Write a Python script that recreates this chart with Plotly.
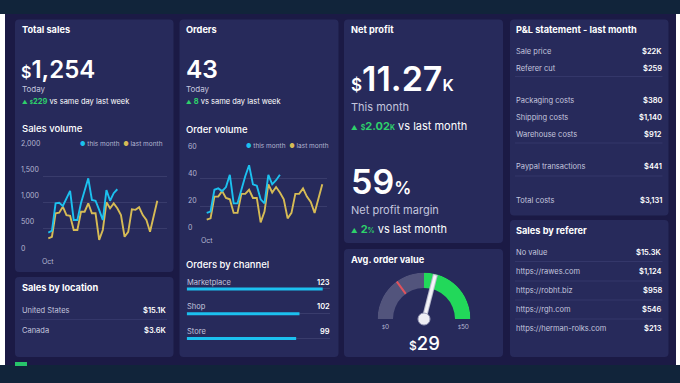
import plotly.graph_objects as go

W, H = 680, 383
FONT = "Inter"

# ---------------- data ----------------
DAYS = list(range(1, 32))
SALES_THIS = [420, 455, 980, 990, 930, 1065, 1220, 660, 660, 985, 1235, 1460, 1045, 1030, 855, 660, 1235, 1030, 1175, 1250]
SALES_LAST = [310, 340, 790, 800, 915, 755, 740, 470, 470, 820, 820, 980, 790, 790, 280, 470, 1000, 885, 980, 885,
              755, 340, 435, 865, 855, 905, 755, 660, 435, 725, 1030]
ORDERS_THIS = [15, 16, 32, 33, 31, 34, 43, 22, 22, 33, 42, 50, 36, 35, 25, 22, 43, 36, 39, 43]
ORDERS_LAST = [10, 11, 27, 27, 31, 26, 25, 15, 15, 29, 29, 32, 26, 26, 8, 16, 36, 30, 34, 30,
               25, 11, 15, 29, 29, 33, 27, 23, 15, 26, 36]
SALES_TICKS = [0, 500, 1000, 1500, 2000]
SALES_TICKTEXT = ["0", "500", "1,000", "1,500", "2,000"]
ORDER_TICKS = [0, 20, 40, 60]
ORDER_TICKTEXT = ["0", "20", "40", "60"]

CHANNELS = ["Marketplace", "Shop", "Store"]
CHANNEL_ORDERS = [123, 102, 99]

LOCATIONS = ["United States", "Canada"]
LOCATION_SALES = ["$15.1K", "$3.6K"]

PL_ITEMS = ["Sale price", "Referer cut", "Packaging costs", "Shipping costs", "Warehouse costs",
            "Paypal transactions", "Total costs"]
PL_VALUES = ["$22K", "$259", "$380", "$1,140", "$912", "$441", "$3,131"]

REFERERS = ["No value", "https://rawes.com", "https://robht.biz", "https://rgh.com", "https://herman-rolks.com"]
REFERER_SALES = ["$15.3K", "$1,124", "$958", "$546", "$213"]

GAUGE_MIN, GAUGE_MAX = 0, 50
GAUGE_BANDS = [(0, 25), (25, 50)]
GAUGE_TARGET = 15
AVG_ORDER = 29

# ---------------- styling ----------------
BAND = "#11243a"
DASH_BG = "#1b1a45"
CARD = "#272a5b"
GRID = "#393c6c"
SEP = "#34376a"
CYAN = "#1cc0ef"
YELLOW = "#d6bb55"
GREEN = "#2ed16b"
GAUGE_GREEN = "#22d85a"
GAUGE_GRAY = "#52547c"
TXT = "#ffffff"
SUB = "#c4c6de"
AXT = "#b3b5d1"
TITLE = 9.2


def X(px):
    return px / W


def Y(py):
    return 1 - py / H


shapes = []
annotations = []


def rect(x0, y0, x1, y1, color):
    shapes.append(dict(type="rect", xref="paper", yref="paper", x0=X(x0), x1=X(x1), y0=Y(y1), y1=Y(y0),
                       fillcolor=color, line=dict(width=0), layer="below"))


def rrect(x0, y0, x1, y1, color, r=4):
    p = (f"M {X(x0 + r)},{Y(y0)} L {X(x1 - r)},{Y(y0)} Q {X(x1)},{Y(y0)} {X(x1)},{Y(y0 + r)} "
         f"L {X(x1)},{Y(y1 - r)} Q {X(x1)},{Y(y1)} {X(x1 - r)},{Y(y1)} "
         f"L {X(x0 + r)},{Y(y1)} Q {X(x0)},{Y(y1)} {X(x0)},{Y(y1 - r)} "
         f"L {X(x0)},{Y(y0 + r)} Q {X(x0)},{Y(y0)} {X(x0 + r)},{Y(y0)} Z")
    shapes.append(dict(type="path", xref="paper", yref="paper", path=p, fillcolor=color,
                       line=dict(width=0), layer="below"))


def hline(x0, x1, y, color=SEP):
    shapes.append(dict(type="line", xref="paper", yref="paper", x0=X(x0), x1=X(x1), y0=Y(y), y1=Y(y),
                       line=dict(color=color, width=1), layer="below"))


def txt(x, y, s, size=8, color=TXT, weight=400, anchor="left"):
    annotations.append(dict(xref="paper", yref="paper", x=X(x), y=Y(y), text=s, showarrow=False,
                            xanchor=anchor, yanchor="middle", borderpad=0,
                            font=dict(family=FONT, size=size, color=color, weight=weight)))


def sp(s, size=None, color=None, weight=None):
    st = []
    if size:
        st.append(f"font-size:{size}px")
    if color:
        st.append(f"fill:{color}")
    if weight:
        st.append(f"font-weight:{weight}")
    return f'<span style="{";".join(st)}">{s}</span>'


# ---------------- background ----------------
rect(0, 14, 680, 365, "#ffffff")
rect(5, 14, 676, 365, DASH_BG)
rect(15, 362, 27, 366, "#27c46a")

# cards
rrect(15, 19.5, 173.5, 272, CARD)
rrect(15, 277, 173.5, 357, CARD)
rrect(179.5, 19.5, 338.5, 357, CARD)
rrect(344, 19.5, 503, 243, CARD)
rrect(344, 249, 503, 357, CARD)
rrect(510, 19.5, 668.5, 215.5, CARD)
rrect(510, 220, 668.5, 357, CARD)

fig = go.Figure()

# ---------------- sales volume ----------------
fig.add_trace(go.Scatter(x=DAYS[:len(SALES_LAST)], y=SALES_LAST, mode="lines",
                         line=dict(color=YELLOW, width=1.9), xaxis="x", yaxis="y", showlegend=False))
fig.add_trace(go.Scatter(x=DAYS[:len(SALES_THIS)], y=SALES_THIS, mode="lines",
                         line=dict(color=CYAN, width=1.9), xaxis="x", yaxis="y", showlegend=False))

# ---------------- order volume ----------------
fig.add_trace(go.Scatter(x=DAYS[:len(ORDERS_LAST)], y=ORDERS_LAST, mode="lines",
                         line=dict(color=YELLOW, width=1.9), xaxis="x2", yaxis="y2", showlegend=False))
fig.add_trace(go.Scatter(x=DAYS[:len(ORDERS_THIS)], y=ORDERS_THIS, mode="lines",
                         line=dict(color=CYAN, width=1.9), xaxis="x2", yaxis="y2", showlegend=False))

# ---------------- orders by channel ----------------
fig.add_trace(go.Bar(x=CHANNEL_ORDERS, y=CHANNELS, orientation="h", width=0.12,
                     marker=dict(color=CYAN, line=dict(width=0)), xaxis="x3", yaxis="y3", showlegend=False))

# ---------------- gauge ----------------
def deg(v):
    return 180 - (v - GAUGE_MIN) / (GAUGE_MAX - GAUGE_MIN) * 180


INNER = 0.667
band_theta = [(deg(a) + deg(b)) / 2 for a, b in GAUGE_BANDS]
band_width = [abs(deg(a) - deg(b)) for a, b in GAUGE_BANDS]
fig.add_trace(go.Barpolar(r=[1 - INNER] * len(GAUGE_BANDS), base=[INNER] * len(GAUGE_BANDS),
                          theta=band_theta, width=band_width,
                          marker=dict(color=[GAUGE_GRAY, GAUGE_GREEN], line=dict(width=0)),
                          subplot="polar", showlegend=False))
fig.add_trace(go.Scatterpolar(r=[INNER, 1], theta=[deg(GAUGE_TARGET)] * 2, mode="lines",
                              line=dict(color="#e0525c", width=2), subplot="polar", showlegend=False))
fig.add_trace(go.Scatterpolar(r=[0, 0.99], theta=[deg(AVG_ORDER)] * 2, mode="lines",
                              line=dict(color="#b8bacd", width=5), subplot="polar", showlegend=False))
fig.add_trace(go.Scatterpolar(r=[0, 0.97], theta=[deg(AVG_ORDER)] * 2, mode="lines",
                              line=dict(color="#f4f4f8", width=3), subplot="polar", showlegend=False))
fig.add_trace(go.Scatterpolar(r=[0], theta=[deg(AVG_ORDER)], mode="markers",
                              marker=dict(color="#eeeef4", size=12, line=dict(color="#9a9cb8", width=1)),
                              subplot="polar", showlegend=False))

# ---------------- text ----------------
# Total sales
txt(20.5, 30, "Total sales", TITLE, TXT, 700)
txt(20, 69.5, sp("$", 16) + "1,254", 24, TXT, 600)
txt(20.5, 88.7, "Today", 8, SUB)
txt(20.5, 101.7, sp("▲", 5.5, GREEN) + " " + sp("$", 5, GREEN, 700) + sp("229", None, GREEN, 700)
    + " vs same day last week", 7.5, TXT)
txt(20.5, 128, "Sales volume", 9.5, TXT, 500)
txt(78.5, 144, sp("●", 6, CYAN) + " this month  " + sp("●", 6, YELLOW) + " last month", 6.5, AXT)

# Orders
txt(185.5, 30, "Orders", TITLE, TXT, 700)
txt(185, 69.5, "43", 24.5, TXT, 600)
txt(185.5, 88.7, "Today", 8, SUB)
txt(185.5, 101.7, sp("▲", 5.5, GREEN) + " " + sp("8", None, GREEN, 700) + " vs same day last week", 7.5, TXT)
txt(185.5, 130, "Order volume", 9.5, TXT, 500)
txt(244.5, 145.7, sp("●", 6, CYAN) + " this month  " + sp("●", 6, YELLOW) + " last month", 6.5, AXT)
txt(185.5, 264, "Orders by channel", 9.5, TXT, 500)
ch_y = [282.3, 306.7, 331.7]
for name, val, yy in zip(CHANNELS, CHANNEL_ORDERS, ch_y):
    txt(186, yy, name, 7.5, SUB)
    txt(330.5, yy, f"{val}", 7.5, TXT, 600, anchor="right")

# Net profit
txt(350, 30, "Net profit", TITLE, TXT, 700)
txt(350, 78.5, sp("$", 17) + "11.27" + sp("K", 16), 34, TXT, 600)
txt(350.5, 106.5, "This month", 11, SUB)
txt(350.5, 126, sp("▲", 6.5, GREEN) + " " + sp("$", 7, GREEN, 700) + sp("2.02", None, GREEN, 700)
    + sp("K", 7, GREEN, 700) + " vs last month", 11, TXT)
txt(350, 181.5, "59" + sp("%", 17), 34, TXT, 600)
txt(350.5, 210, "Net profit margin", 11, SUB)
txt(350.5, 228.7, sp("▲", 6.5, GREEN) + " " + sp("2", None, GREEN, 700) + sp("%", 7, GREEN, 700)
    + " vs last month", 11, TXT)

# Avg order value
txt(350, 259.3, "Avg. order value", TITLE, TXT, 700)
txt(385, 327.3, sp("$", 4.5) + f"{GAUGE_MIN}", 6.5, AXT, anchor="center")
txt(463.7, 327.3, sp("$", 4.5) + f"{GAUGE_MAX}", 6.5, AXT, anchor="center")
txt(424, 343, sp("$", 12) + f"{AVG_ORDER}", 18.5, TXT, 500, anchor="center")

# P&L
txt(515, 29.7, "P&L statement - last month", TITLE, TXT, 700)
pl_y = [51.7, 68.3, 100.7, 117.7, 134.3, 166.7, 200]
for name, val, yy in zip(PL_ITEMS, PL_VALUES, pl_y):
    txt(515, yy, name, 7.5, SUB)
    txt(662.5, yy, val, 7.5, TXT, 600, anchor="right")
for yy in [76.5, 143, 176]:
    hline(515, 662.5, yy)

# Sales by referer
txt(515, 230.7, "Sales by referer", TITLE, TXT, 700)
ref_y = [252.7, 271.7, 290.7, 309.3, 328.3]
for name, val, yy in zip(REFERERS, REFERER_SALES, ref_y):
    txt(515, yy, name, 7.5, SUB)
    txt(662.5, yy, val, 7.5, TXT, 600, anchor="right")
for yy in [261.5, 281, 300, 319]:
    hline(515, 662.5, yy)

# Sales by location
txt(20.5, 287.3, "Sales by location", TITLE, TXT, 700)
loc_y = [310, 330]
for name, val, yy in zip(LOCATIONS, LOCATION_SALES, loc_y):
    txt(20.5, yy, name, 7.5, SUB)
    txt(167, yy, val, 7.5, TXT, 600, anchor="right")
hline(20.5, 167, 319.5)

# axis tick labels (placed on the axes' own scales)
for v, t in zip(SALES_TICKS, SALES_TICKTEXT):
    annotations.append(dict(xref="paper", yref="y", x=X(20), y=v, text=t, showarrow=False, xanchor="left",
                            yanchor="middle", yshift=6.5, borderpad=0,
                            font=dict(family=FONT, size=7, color=AXT)))
for v, t in zip(ORDER_TICKS, ORDER_TICKTEXT):
    annotations.append(dict(xref="paper", yref="y2", x=X(186.5), y=v, text=t, showarrow=False, xanchor="left",
                            yanchor="middle", yshift=5.5, borderpad=0,
                            font=dict(family=FONT, size=7, color=AXT)))
annotations.append(dict(xref="x", yref="y domain", x=DAYS[0], y=0, text="Oct", showarrow=False, xanchor="center",
                        yanchor="middle", yshift=-6.8, borderpad=0, font=dict(family=FONT, size=7, color=AXT)))
annotations.append(dict(xref="x2", yref="y2 domain", x=DAYS[0], y=0, text="Oct", showarrow=False,
                        xanchor="center", yanchor="middle", yshift=-6.8, borderpad=0,
                        font=dict(family=FONT, size=7, color=AXT)))

hidden = dict(showgrid=False, zeroline=False, showticklabels=False, ticks="", showline=False)

fig.update_layout(
    width=W, height=H, margin=dict(l=0, r=0, t=0, b=0),
    paper_bgcolor=BAND, plot_bgcolor="rgba(0,0,0,0)",
    shapes=shapes, annotations=annotations, showlegend=False,
    xaxis=dict(domain=[X(43), X(167)], range=[-0.46, 33.67], **hidden),
    yaxis=dict(domain=[Y(254.5), Y(150.1)], range=[0, 2000], tickvals=SALES_TICKS, showgrid=True,
               gridcolor=GRID, gridwidth=1, zeroline=False, showticklabels=False, ticks=""),
    xaxis2=dict(domain=[X(200), X(327)], range=[-0.74, 32.22], anchor="y2", **hidden),
    yaxis2=dict(domain=[Y(233.3), Y(151.7)], range=[0, 60], tickvals=ORDER_TICKS, showgrid=True,
                gridcolor=GRID, gridwidth=1, zeroline=False, showticklabels=False, ticks="", anchor="x2"),
    xaxis3=dict(domain=[X(186.7), X(330)], range=[0, 129.6], anchor="y3", **hidden),
    yaxis3=dict(domain=[Y(351), Y(276.5)], type="category", categoryorder="array", categoryarray=CHANNELS,
                range=[2.5, -0.5], showgrid=True, gridcolor=GRID, gridwidth=1, zeroline=False,
                showticklabels=False, ticks="", anchor="x3"),
    polar=dict(domain=dict(x=[X(377.5), X(470.5)], y=[Y(319), Y(272.5)]), sector=[0, 180],
               bgcolor="rgba(0,0,0,0)",
               radialaxis=dict(visible=False, range=[0, 1]),
               angularaxis=dict(visible=False, direction="counterclockwise", rotation=0)),
)

fig.write_html("out.html", config={"displayModeBar": False},
               post_script="document.body.style.margin='0';document.body.style.overflow='hidden';")
